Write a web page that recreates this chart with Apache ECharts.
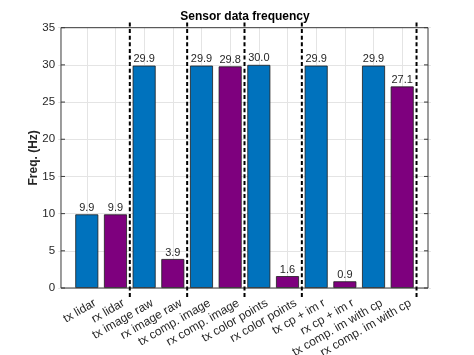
<!DOCTYPE html>
<html><head><meta charset="utf-8">
<script src="https://cdn.jsdelivr.net/npm/echarts@6/dist/echarts.min.js"></script>
<style>html,body{margin:0;padding:0;background:#fff}#c{width:474px;height:355px}</style>
</head><body><div id="c"></div>
<script>
const categories = ['tx lidar','rx lidar','tx image raw','rx image raw','tx comp. image','rx comp. image','tx color points','rx color points','tx cp + im r','rx cp + im r','tx comp. im with cp','rx comp. im with cp'];
const freqValues = [9.9,9.9,29.9,3.9,29.9,29.8,30.0,1.6,29.9,0.9,29.9,27.1];
const yTicks = [0,5,10,15,20,25,30,35];
const separators = [2.5,4.5,6.5,8.5,12.5];
const xLimits = [0.1, 12.9];
const sepRange = [-1.2, 35.7];

const BLUE = '#0072BD', PURPLE = '#7E007E';
const FONT = "'Liberation Sans', Arial, sans-serif";
const TXT = '#262626';

const chart = echarts.init(document.getElementById('c'), null, {renderer:'canvas'});
chart.setOption({
  animation:false,
  backgroundColor:'#ffffff',
  title:{text:'Sensor data frequency', left:245, textAlign:'center', top:11, padding:0,
    textStyle:{fontFamily:FONT, fontSize:12, fontWeight:'bold', color:'#000'}},
  grid:{left:58.13, right:43.13, top:27.7, bottom:67, containLabel:false, outerBoundsMode:'none'},
  xAxis:{type:'value', min:0, max:13, interval:1,
    axisLine:{show:false}, axisTick:{show:false},
    splitLine:{show:true, showMinLine:false, showMaxLine:false, lineStyle:{color:'#e4e4e4', width:1}},
    axisLabel:{rotate:30, align:'right', verticalAlign:'top', margin:12, padding:[0,-6,0,0],
      fontFamily:FONT, fontSize:12, color:TXT,
      formatter:v => (Number.isInteger(v) && v>=1 && v<=categories.length) ? categories[v-1] : ''}},
  yAxis:{type:'value', min:0, max:35, interval:5,
    name:'Freq. (Hz)', nameLocation:'middle', nameGap:18, nameMoveOverlap:false,
    nameTextStyle:{fontFamily:FONT, fontSize:12, fontWeight:'bold', color:TXT},
    axisLine:{show:false}, axisTick:{show:false},
    splitLine:{show:true, lineStyle:{color:'#e4e4e4', width:1}},
    axisLabel:{margin:3, fontFamily:FONT, fontSize:11.5, color:TXT}},
  series:[
    {type:'bar', z:2, barWidth:23,
      data:categories.map((c,i)=>({value:[i+1, freqValues[i]], itemStyle:{color:c.startsWith('tx')?BLUE:PURPLE}})),
      itemStyle:{borderColor:'#1e1e1e', borderWidth:0.8},
      label:{show:true, position:'top', distance:1, fontFamily:FONT, fontSize:11, color:TXT,
        formatter:p => p.value[1].toFixed(1)}},
    {type:'custom', z:5, clip:false, data:[0],
      renderItem:(params, api) => {
        const tl = api.coord([xLimits[0], 35]);
        const br = api.coord([xLimits[1], 0]);
        const children = [{type:'rect', shape:{x:tl[0], y:tl[1], width:br[0]-tl[0], height:br[1]-tl[1]},
          style:{fill:'none', stroke:'#3a3a3a', lineWidth:1}}];
        yTicks.forEach(t => {
          const p = api.coord([xLimits[0], t]);
          const q = api.coord([xLimits[1], t]);
          children.push({type:'line', shape:{x1:p[0], y1:p[1], x2:p[0]+4, y2:p[1]}, style:{stroke:'#3a3a3a', lineWidth:1}});
          children.push({type:'line', shape:{x1:q[0]-4, y1:q[1], x2:q[0], y2:q[1]}, style:{stroke:'#3a3a3a', lineWidth:1}});
        });
        return {type:'group', children};
      }},
    {type:'custom', z:6, clip:false, data:separators,
      renderItem:(params, api) => {
        const x = api.value(0);
        const a = api.coord([x, sepRange[1]]);
        const b = api.coord([x, sepRange[0]]);
        return {type:'line', shape:{x1:a[0], y1:a[1], x2:b[0], y2:b[1]},
          style:{stroke:'#000', lineWidth:2, lineDash:[4,2.6]}};
      }}
  ]
});
</script></body></html>
